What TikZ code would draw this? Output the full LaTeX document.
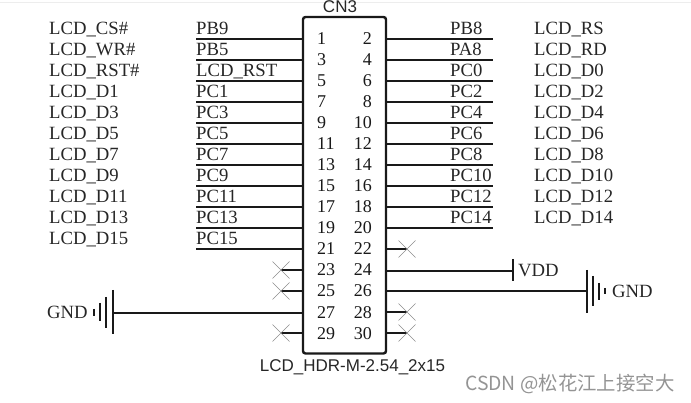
\documentclass[tikz,border=0pt]{standalone}
\usepackage{fontspec}
\setmainfont{Liberation Serif}
\newfontfamily\arialf{Liberation Sans}
\newfontfamily\cjkf{Noto Sans CJK SC}
\tikzset{
  lbl/.style={font=\fontsize{18.7}{18.7}\selectfont,anchor=base west,inner sep=0pt,text=black!85},
  pinnum/.style={font=\fontsize{18}{18}\selectfont,inner sep=0pt,anchor=base,text=black!90},
  wire/.style={line width=2pt,black!90},
  conn/.style={draw=black!90,line width=2.4pt,rounded corners=2.5pt,inner sep=0pt,minimum width=83pt,minimum height=336.5pt},
  nc/.style={draw=black!45,line width=0.6pt},
  gbar/.style={line width=2pt,black!90},
  sanslbl/.style={font=\arialf\fontsize{17}{17}\selectfont,inner sep=0pt,anchor=base,text=black!85},
  wm/.style={font=\cjkf\fontsize{19.4}{19.4}\selectfont,inner sep=0pt,anchor=base west,text=black!42}
}
\begin{document}
\begin{tikzpicture}[x=1pt,y=-1pt]
\useasboundingbox (0,0) rectangle (691,403);
\draw[black!7,line width=1pt] (0,2.5) -- (691,2.5);
\node[conn] (box) at (344.5,185.25) {};
\node[sanslbl] (cn) at (340,13) {CN3};
\node[sanslbl] (ref) at (352.5,372) {LCD\_HDR-M-2.54\_2x15};
% left signal rows
\foreach \i/\a/\b [count=\n from 0] in {
 1/LCD\_CS\#/PB9, 3/LCD\_WR\#/PB5, 5/LCD\_RST\#/LCD\_RST, 7/LCD\_D1/PC1, 9/LCD\_D3/PC3,
 11/LCD\_D5/PC5, 13/LCD\_D7/PC7, 15/LCD\_D9/PC9, 17/LCD\_D11/PC11, 19/LCD\_D13/PC13, 21/LCD\_D15/PC15}{
  \pgfmathsetmacro{\yy}{round(38.5+21.04*\n)}
  \coordinate (lp\n) at (303,\yy);
  \coordinate (le\n) at (196,\yy);
  \draw[wire] (le\n) -- (lp\n);
  \node[lbl] (ln\n) at (49,\yy-4) {\a};
  \node[lbl] (lb\n) at (196,\yy-4) {\b};
}
% right signal rows
\foreach \a/\b [count=\n from 0] in {
 LCD\_RS/PB8, LCD\_RD/PA8, LCD\_D0/PC0, LCD\_D2/PC2, LCD\_D4/PC4, LCD\_D6/PC6, LCD\_D8/PC8,
 LCD\_D10/PC10, LCD\_D12/PC12, LCD\_D14/PC14}{
  \pgfmathsetmacro{\yy}{round(38.5+21.04*\n)}
  \coordinate (rp\n) at (386,\yy);
  \coordinate (re\n) at (493,\yy);
  \draw[wire] (rp\n) -- (re\n);
  \node[lbl] (rb\n) at (450,\yy-4) {\b};
  \node[lbl] (rn\n) at (534,\yy-4) {\a};
}
% pin numbers
\foreach \n in {0,...,14}{
  \pgfmathsetmacro{\yy}{38.5+21.04*\n+6}
  \pgfmathtruncatemacro{\odd}{2*\n+1}
  \pgfmathtruncatemacro{\even}{2*\n+2}
  \node[pinnum,anchor=base west] (po\n) at (317,\yy) {\odd};
  \node[pinnum,anchor=base east] (pe\n) at (372,\yy) {\even};
}
% no-connect left
\foreach \n in {11,12,14}{
  \pgfmathsetmacro{\yy}{round(38.5+21.04*\n)}
  \coordinate (xl\n) at (281,\yy);
  \coordinate (xlp\n) at (303,\yy);
  \draw[wire] (xl\n) -- (xlp\n);
  \draw[nc] (272.5,\yy-8.5) -- (289.5,\yy+8.5) (272.5,\yy+8.5) -- (289.5,\yy-8.5);
}
% no-connect right
\foreach \n in {10,13,14}{
  \pgfmathsetmacro{\yy}{round(38.5+21.04*\n)}
  \coordinate (xr\n) at (407,\yy);
  \coordinate (xrp\n) at (386,\yy);
  \draw[wire] (xrp\n) -- (xr\n);
  \draw[nc] (398.5,\yy-8.5) -- (415.5,\yy+8.5) (398.5,\yy+8.5) -- (415.5,\yy-8.5);
}
% VDD
\coordinate (vp) at (386,271);
\coordinate (vb) at (513,271);
\draw[wire] (vp) -- (vb);
\draw[gbar] (513,259) -- (513,281);
\node[lbl] (vdd) at (518,277) {VDD};
% GND right
\coordinate (gp) at (386,291);
\coordinate (gb) at (587,291);
\draw[wire] (gp) -- (gb);
\draw[gbar] (587,270) -- (587,313) (593,276) -- (593,306) (599,283) -- (599,300) (605,288) -- (605,294);
\node[lbl] (gndr) at (612,298) {GND};
% GND left
\coordinate (gq) at (303,313);
\coordinate (gc) at (113,313);
\draw[wire] (gc) -- (gq);
\draw[gbar] (113,290) -- (113,334) (106,297) -- (106,328) (100,303) -- (100,321) (94,309) -- (94,316);
\node[lbl] (gndl) at (47,319) {GND};
% watermark
\node[wm] (wmk) at (465,391) {CSDN @松花江上接空大};
\end{tikzpicture}
\end{document}
